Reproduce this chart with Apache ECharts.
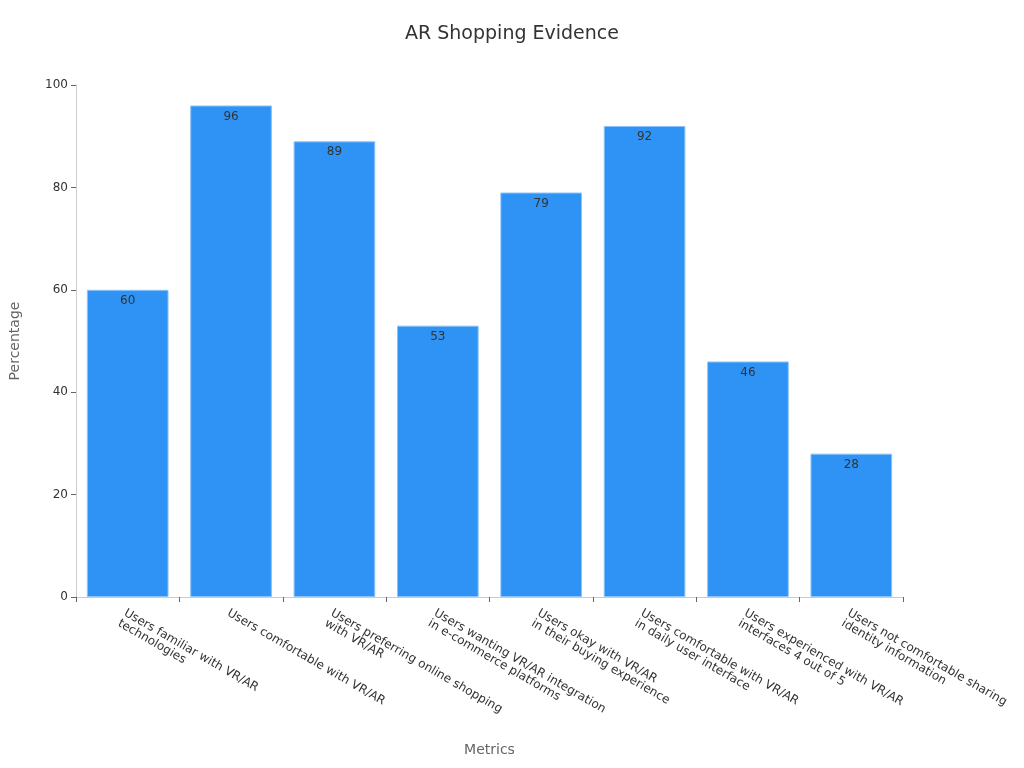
<!DOCTYPE html>
<html><head><meta charset="utf-8">
<script src="https://cdn.jsdelivr.net/npm/echarts@6/dist/echarts.min.js"></script>
<style>html,body{margin:0;padding:0;}#c{width:1024px;height:768px;}</style>
</head><body><div id="c"></div>
<script>
const categories = [
  "Users familiar with VR/AR\ntechnologies",
  "Users comfortable with VR/AR",
  "Users preferring online shopping\nwith VR/AR",
  "Users wanting VR/AR integration\nin e-commerce platforms",
  "Users okay with VR/AR\nin their buying experience",
  "Users comfortable with VR/AR\nin daily user interface",
  "Users experienced with VR/AR\ninterfaces 4 out of 5",
  "Users not comfortable sharing\nidentity information"
];
const values = [60, 96, 89, 53, 79, 92, 46, 28];
const chart = echarts.init(document.getElementById('c'));
chart.setOption({
  textStyle: { fontFamily: 'DejaVu Sans' },
  title: { text: 'AR Shopping Evidence', left: 'center', top: 20,
    textStyle: { fontSize: 19, fontWeight: 'normal', color: '#333' } },
  grid: { left: 68, right: 121, top: 85, bottom: 171 },
  xAxis: { type: 'category', data: categories, name: 'Metrics', nameLocation: 'middle', nameGap: 146,
    nameTextStyle: { fontSize: 14, color: '#666' },
    axisLine: { lineStyle: { color: '#ccc' } }, axisTick: { show: true, lineStyle: { color: '#666' } },
    axisLabel: { rotate: -30, interval: 0, fontSize: 12, color: '#333', align: 'left', verticalAlign: 'top', margin: 10 } },
  yAxis: { type: 'value', min: 0, max: 100, interval: 20, name: 'Percentage', nameLocation: 'middle', nameGap: 54,
    nameTextStyle: { fontSize: 14, color: '#666' },
    axisLine: { show: true, lineStyle: { color: '#ccc' } }, axisTick: { show: true, lineStyle: { color: '#666' } },
    splitLine: { show: false }, axisLabel: { fontSize: 12, color: '#333' } },
  series: [{ type: 'bar', data: values, barWidth: '79%',
    itemStyle: { color: '#2f93f5', borderColor: '#8cc4fa', borderWidth: 1 },
    label: { show: true, position: 'insideTop', color: '#333', fontSize: 12, distance: 5 } }]
});
</script></body></html>
